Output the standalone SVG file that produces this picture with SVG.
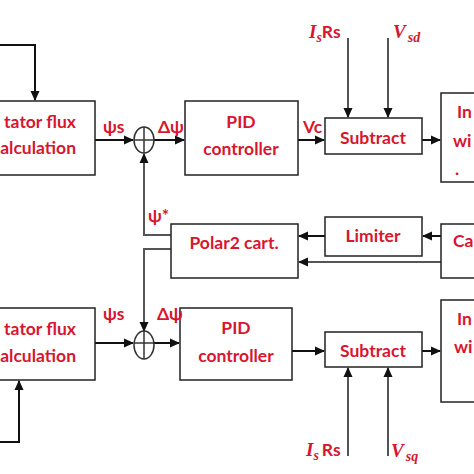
<svg xmlns="http://www.w3.org/2000/svg" width="474" height="474" viewBox="0 0 474 474">
<defs>
<marker id="ah" markerWidth="10" markerHeight="10" refX="9" refY="5" orient="auto" markerUnits="userSpaceOnUse">
<path d="M0,0.5 L10,5 L0,9.5 Z" fill="#111"/>
</marker>
<style>
.box{fill:#fff;stroke:#222;stroke-width:1.5}
.t{font-family:Lato,"Liberation Sans",sans-serif;font-weight:bold;font-size:17.5px;fill:#d8162f}
.m{font-family:"Liberation Serif",serif;font-style:italic;font-weight:bold;fill:#d8162f}
.w{fill:none;stroke:#111;stroke-width:2;marker-end:url(#ah)}
.g{fill:none;stroke:#555;stroke-width:2;marker-end:url(#ah)}
.sum{fill:none;stroke:#333;stroke-width:1.5}
</style>
</defs>
<rect width="474" height="474" fill="#fff"/>
<g id="connectors">
<polyline class="w" points="0,45 35,45 35,100"/>
<line class="w" x1="95" y1="140" x2="133" y2="140"/>
<line class="w" x1="154" y1="140" x2="184" y2="140"/>
<line class="w" x1="298" y1="140" x2="324" y2="140"/>
<line class="w" x1="422" y1="140" x2="440" y2="140"/>
<line class="g" x1="348" y1="38" x2="348" y2="117"/>
<line class="g" x1="388" y1="38" x2="388" y2="117"/>
<polyline class="g" points="171,235 144,235 144,154"/>
<polyline class="g" points="171,249 144,249 144,331"/>
<line class="w" x1="441" y1="236" x2="423" y2="236"/>
<line class="w" x1="325" y1="236" x2="299" y2="236"/>
<line class="g" x1="441" y1="262" x2="299" y2="262"/>
<line class="w" x1="95" y1="343" x2="133" y2="343"/>
<line class="w" x1="154" y1="343" x2="179" y2="343"/>
<line class="w" x1="292" y1="351" x2="324" y2="351"/>
<line class="w" x1="422" y1="351" x2="440" y2="351"/>
<line class="g" x1="348" y1="456" x2="348" y2="368"/>
<line class="g" x1="388" y1="456" x2="388" y2="368"/>
<polyline class="w" points="0,442 19,442 19,381"/>
</g>
<g id="stator1">
<rect class="box" x="-5" y="101" width="100" height="74"/>
<text class="t" x="76" y="128" text-anchor="end">tator flux</text>
<text class="t" x="76" y="154" text-anchor="end">alculation</text>
</g>
<g id="sum1">
<ellipse class="sum" cx="144" cy="140" rx="10" ry="13"/>
<line class="sum" x1="134" y1="140" x2="154" y2="140"/>
<line class="sum" x1="144" y1="127" x2="144" y2="153"/>
</g>
<g id="pid1">
<rect class="box" x="185" y="101" width="113" height="74"/>
<text class="t" x="241" y="128" text-anchor="middle">PID</text>
<text class="t" x="241" y="155" text-anchor="middle">controller</text>
</g>
<g id="sub1">
<rect class="box" x="325" y="118" width="97" height="36"/>
<text class="t" x="373" y="144" text-anchor="middle">Subtract</text>
</g>
<g id="inv1">
<rect class="box" x="441" y="93" width="40" height="89"/>
<text class="t" x="457" y="118">In</text>
<text class="t" x="453" y="147">wi</text>
<text class="t" x="455" y="175">.</text>
</g>
<g id="polar">
<rect class="box" x="171" y="224" width="127" height="54"/>
<text class="t" x="234" y="249" text-anchor="middle">Polar2 cart.</text>
</g>
<g id="limiter">
<rect class="box" x="325" y="217" width="97" height="39"/>
<text class="t" x="373" y="242" text-anchor="middle">Limiter</text>
</g>
<g id="calc">
<rect class="box" x="441" y="224" width="40" height="54"/>
<text class="t" x="453" y="247">Ca</text>
</g>
<g id="stator2">
<rect class="box" x="-5" y="308" width="100" height="72"/>
<text class="t" x="76" y="335" text-anchor="end">tator flux</text>
<text class="t" x="76" y="362" text-anchor="end">alculation</text>
</g>
<g id="sum2">
<ellipse class="sum" cx="144" cy="345" rx="10" ry="14"/>
<line class="sum" x1="134" y1="343" x2="154" y2="343"/>
<line class="sum" x1="144" y1="331" x2="144" y2="359"/>
</g>
<g id="pid2">
<rect class="box" x="180" y="308" width="112" height="72"/>
<text class="t" x="236" y="334" text-anchor="middle">PID</text>
<text class="t" x="236" y="362" text-anchor="middle">controller</text>
</g>
<g id="sub2">
<rect class="box" x="325" y="332" width="97" height="35"/>
<text class="t" x="373" y="357" text-anchor="middle">Subtract</text>
</g>
<g id="inv2">
<rect class="box" x="441" y="300" width="40" height="102"/>
<text class="t" x="457" y="325">In</text>
<text class="t" x="454" y="353">wi</text>
</g>
<g id="labels">
<text class="t" x="103" y="133">ψs</text>
<text class="t" x="158" y="133">Δψ</text>
<text class="t" x="303" y="133">Vc</text>
<text class="t" x="148" y="222">ψ*</text>
<text class="t" x="103" y="320">ψs</text>
<text class="t" x="157" y="320">Δψ</text>
<text x="309" y="38"><tspan class="m" font-size="19">I</tspan><tspan class="m" font-size="14" dy="4">s</tspan><tspan class="t" dy="-4">Rs</tspan></text>
<text x="393" y="38"><tspan class="m" font-size="19">V</tspan><tspan class="m" font-size="14" dy="4" dx="2">sd</tspan></text>
<text x="306" y="456"><tspan class="m" font-size="19">I</tspan><tspan class="m" font-size="14" dy="4">s</tspan><tspan class="t" dy="-4" dx="3">Rs</tspan></text>
<text x="391" y="457"><tspan class="m" font-size="19">V</tspan><tspan class="m" font-size="14" dy="4" dx="2">sq</tspan></text>
</g>
</svg>
